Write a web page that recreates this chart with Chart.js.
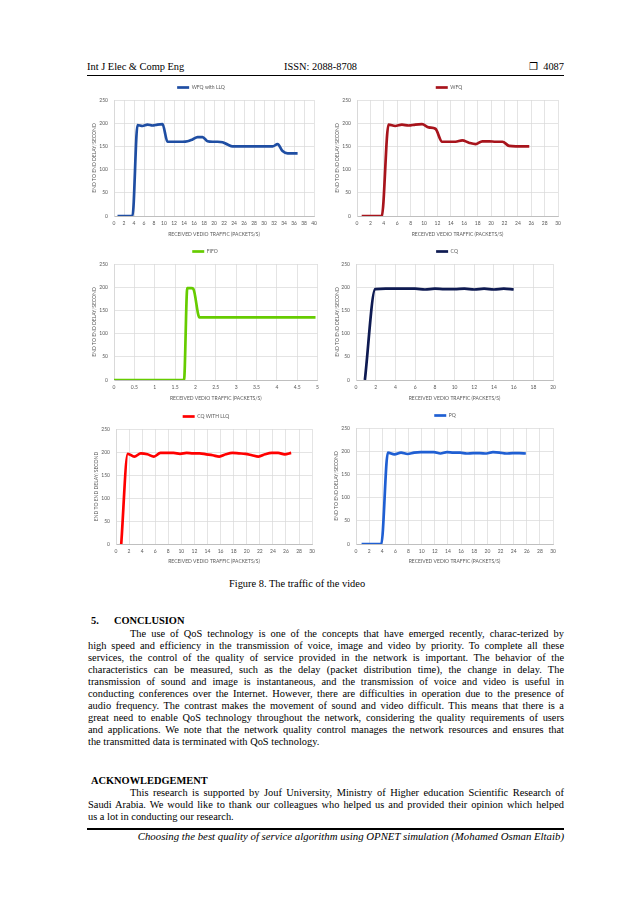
<!DOCTYPE html>
<html>
<head>
<meta charset="utf-8">
<script src="https://cdn.jsdelivr.net/npm/chart.js@4.4.1/dist/chart.umd.min.js"></script>
<style>
body { margin: 0; background: #fff; }
#page { position: relative; width: 638px; height: 902px; font-family: "Liberation Serif", "Times New Roman", serif; color: #000; }
.t { position: absolute; font-size: 10.4px; line-height: 12px; white-space: nowrap; }
.j { position: absolute; left: 88px; width: 476px; font-size: 10.4px; line-height: 12px; text-align: justify; text-align-last: justify; }
.ind { left: 130px; width: 434px; }
.b { font-weight: bold; }
.rule { position: absolute; left: 87px; width: 477px; background: #000; }
canvas { position: absolute; }
</style>
</head>
<body>
<div id="page">
  <div class="t" style="left:87px;top:61px">Int J Elec &amp; Comp Eng</div>
  <div class="t" style="left:284px;top:61px">ISSN: 2088-8708</div>
  <div class="t" style="left:529px;top:61px;font-family:'DejaVu Sans';font-size:10px">&#10064;</div>
  <div class="t" style="right:74px;top:61px">4087</div>
  <div class="rule" style="top:75px;height:1px"></div>

  <canvas id="c1" width="240" height="157" style="left:81px;top:81px"></canvas>
  <canvas id="c2" width="232" height="157" style="left:333px;top:81px"></canvas>
  <canvas id="c3" width="236" height="157" style="left:87px;top:245px"></canvas>
  <canvas id="c4" width="226" height="157" style="left:334px;top:245px"></canvas>
  <canvas id="c5" width="226" height="155" style="left:93px;top:410px"></canvas>
  <canvas id="c6" width="230" height="156" style="left:330px;top:409px"></canvas>

  <div class="t" style="left:229px;top:578px">Figure 8. The traffic of the video</div>

  <div class="t b" style="left:91px;top:615px">5.</div>
  <div class="t b" style="left:114px;top:615px">CONCLUSION</div>
  <div class="j ind" style="top:628px">The use of QoS technology is one of the concepts that have emerged recently, charac-terized by</div>
  <div class="j" style="top:640px">high speed and efficiency in the transmission of voice, image and video by priority. To complete all these</div>
  <div class="j" style="top:652px">services, the control of the quality of service provided in the network is important. The behavior of the</div>
  <div class="j" style="top:664px">characteristics can be measured, such as the delay (packet distribution time), the change in delay. The</div>
  <div class="j" style="top:676px">transmission of sound and image is instantaneous, and the transmission of voice and video is useful in</div>
  <div class="j" style="top:688px">conducting conferences over the Internet. However, there are difficulties in operation due to the presence of</div>
  <div class="j" style="top:700px">audio frequency. The contrast makes the movement of sound and video difficult. This means that there is a</div>
  <div class="j" style="top:712px">great need to enable QoS technology throughout the network, considering the quality requirements of users</div>
  <div class="j" style="top:724px">and applications. We note that the network quality control manages the network resources and ensures that</div>
  <div class="t" style="left:88px;top:736px">the transmitted data is terminated with QoS technology.</div>

  <div class="t b" style="left:91px;top:775px">ACKNOWLEDGEMENT</div>
  <div class="j ind" style="top:787px">This research is supported by Jouf University, Ministry of Higher education Scientific Research of</div>
  <div class="j" style="top:799px">Saudi Arabia. We would like to thank our colleagues who helped us and provided their opinion which helped</div>
  <div class="t" style="left:88px;top:811px">us a lot in conducting our research.</div>
  <div class="rule" style="top:828px;height:1.5px"></div>
  <div class="t" style="right:74px;top:830px;font-style:italic;font-size:10.8px">Choosing the best quality of service algorithm using OPNET simulation (Mohamed Osman Eltaib)</div>
</div>

<script>
// traffic (packets/s) and end to end delay
const wfqLlqX = [0.7, 1.7, 2.7, 3.7, 4.7, 5.7, 6.7, 7.7, 8.7, 9.7, 10.7, 11.7, 12.7, 13.7, 14.7, 15.7, 16.7, 17.7, 18.7, 19.7, 20.7, 21.7, 22.7, 23.7, 24.7, 25.7, 26.7, 27.7, 28.7, 29.7, 30.7, 31.7, 32.7, 33.7, 34.7, 35.7, 36.7];
const wfqLlqY = [0, 0, 0, 0, 196, 194, 197, 195, 197, 198, 160, 160, 160, 160, 161, 165, 170, 170, 161, 160, 160, 159, 154, 150, 150, 150, 150, 150, 150, 150, 150, 150, 155, 140, 135, 135, 135];

const wfqX = [0.7, 1.7, 2.7, 3.7, 4.7, 5.7, 6.7, 7.7, 8.7, 9.7, 10.7, 11.7, 12.7, 13.7, 14.7, 15.7, 16.7, 17.7, 18.7, 19.7, 20.7, 21.7, 22.7, 23.7, 24.7, 25.7];
const wfqY = [0, 0, 0, 0, 197, 194, 197, 195, 197, 198, 191, 188, 160, 160, 160, 163, 158, 155, 161, 161, 160, 160, 151, 150, 150, 150];

const fifoX = [0, 1.72, 1.8, 1.9, 1.95, 2.1, 4.95];
const fifoY = [0, 0, 198, 198, 196, 135, 135];

const cqX = [0.9, 1.95, 3, 4, 5, 6, 7, 8, 9, 10, 11, 12, 13, 14, 15, 16];
const cqY = [0, 196, 197, 197, 197, 197, 195, 197, 196, 196, 197, 195, 197, 195, 197, 195];

const cqLlqX = [0.8, 1.8, 2.8, 3.8, 4.8, 5.8, 6.8, 7.8, 8.8, 9.8, 10.8, 11.8, 12.8, 13.8, 14.8, 15.8, 16.8, 17.8, 18.8, 19.8, 20.8, 21.8, 22.8, 23.8, 24.8, 25.8, 26.8];
const cqLlqY = [0, 196, 190, 197, 195, 190, 198, 198, 198, 196, 198, 197, 197, 195, 193, 190, 195, 198, 197, 196, 193, 190, 195, 198, 198, 195, 198];

const pqX = [0.85, 1.85, 2.85, 3.85, 4.85, 5.85, 6.85, 7.85, 8.85, 9.85, 10.85, 11.85, 12.85, 13.85, 14.85, 15.85, 16.85, 17.85, 18.85, 19.85, 20.85, 21.85, 22.85, 23.85, 24.85, 25.85];
const pqY = [0, 0, 0, 0, 197, 193, 197, 194, 197, 198, 198, 198, 195, 198, 197, 197, 195, 196, 196, 195, 198, 197, 195, 196, 196, 195];

const xTitle = 'RECEIVED VEDIO TRAFFIC (PACKETS/S)';
const yTitle = 'END TO END DELAY/SECOND';

const small = { family: 'Lato', size: 5 };
const grey = '#595959';

function drawChart(id, name, color, xs, ys, xMax, xStep, yAxisW, yPad, xAxisH) {
  const pts = xs.map((x, i) => ({ x: x, y: ys[i] }));
  new Chart(document.getElementById(id), {
    type: 'line',
    data: {
      datasets: [{
        label: name,
        data: pts,
        borderColor: color,
        backgroundColor: color,
        borderWidth: 2.7,
        pointRadius: 0,
        cubicInterpolationMode: 'monotone',
        fill: false
      }]
    },
    options: {
      responsive: false,
      animation: false,
      plugins: {
        legend: {
          labels: { usePointStyle: true, pointStyle: 'line', pointStyleWidth: 12, font: small, color: grey, padding: 4 }
        },
        tooltip: { enabled: false }
      },
      scales: {
        x: {
          type: 'linear', min: 0, max: xMax,
          ticks: { stepSize: xStep, font: small, color: grey, padding: 4, maxRotation: 0, minRotation: 0, autoSkip: false, callback: v => String(v) },
          grid: { color: '#d9d9d9', lineWidth: 0.7, drawTicks: false },
          border: { color: '#bfbfbf' },
          title: { display: true, text: xTitle, font: small, color: grey, padding: { top: 0, bottom: 1 } },
          afterFit: s => { s.height = xAxisH; }
        },
        y: {
          min: 0, max: 250,
          ticks: { stepSize: 50, font: small, color: grey, padding: 6 },
          grid: { color: '#d9d9d9', lineWidth: 0.7, drawTicks: false },
          border: { color: '#d9d9d9' },
          title: { display: true, text: yTitle, font: small, color: grey, padding: { top: yPad, bottom: 0 } },
          afterFit: s => { s.width = yAxisW; }
        }
      }
    }
  });
}

drawChart('c1', 'WFQ with LLQ', '#1f4ea3', wfqLlqX, wfqLlqY, 40, 2, 33, 10, 22);
drawChart('c2', 'WFQ', '#a8141c', wfqX, wfqY, 30, 2, 24, 1.3, 22);
drawChart('c3', 'FIFO', '#66cc00', fifoX, fifoY, 5, 0.5, 27, 4, 22);
drawChart('c4', 'CQ', '#0e1a52', cqX, cqY, 20, 2, 22, 0, 22);
drawChart('c5', 'CQ WITH LLQ', '#ff0000', cqLlqX, cqLlqY, 30, 2, 23, 0, 21);
drawChart('c6', 'PQ', '#1f5fd3', pqX, pqY, 30, 2, 26, 3, 21);

// shrink a justified line a little if it would wrap
document.querySelectorAll('.j').forEach(el => {
  let size = 10.4;
  while (el.offsetHeight > 13 && size > 8) {
    size -= 0.1;
    el.style.fontSize = size + 'px';
  }
});
</script>
</body>
</html>
